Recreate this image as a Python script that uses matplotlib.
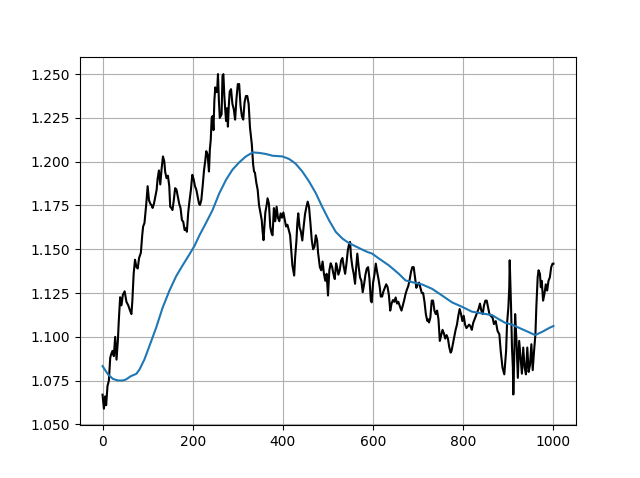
import matplotlib
matplotlib.use("Agg")
import matplotlib.pyplot as plt

# Price series (black)
price_x = [0, 3, 6, 8, 11, 14, 17, 19, 22, 25, 28, 31, 34, 36, 39, 42, 45, 49, 53, 57,
           61, 64, 66, 69, 72, 75, 78, 81, 85, 88, 90, 93, 97, 100, 103, 106, 109, 111, 114, 117,
           120, 122, 125, 128, 131, 134, 137, 139, 142, 145, 148, 150, 153, 155, 158, 161, 164, 167, 170, 173,
           176, 179, 182, 185, 187, 190, 193, 196, 199, 202, 205, 208, 211, 214, 216, 219, 222, 225, 228, 230,
           233, 236, 238, 240, 242, 244, 246, 248, 250, 252, 254, 256, 258, 260, 262, 264, 266, 268, 270, 272,
           274, 276, 278, 280, 282, 285, 288, 291, 294, 297, 300, 303, 306, 309, 312, 315, 318, 321, 324, 327,
           329, 331, 334, 336, 338, 341, 344, 347, 350, 353, 355, 357, 359, 361, 364, 366, 369, 372, 375, 377,
           380, 383, 386, 389, 392, 395, 398, 401, 404, 407, 410, 413, 416, 419, 421, 423, 425, 427, 430, 432,
           434, 437, 440, 443, 446, 449, 452, 455, 458, 461, 464, 467, 470, 473, 476, 478, 480, 482, 485, 488,
           491, 494, 497, 500, 503, 506, 509, 512, 515, 518, 520, 523, 526, 529, 532, 535, 538, 541, 544, 547,
           549, 551, 554, 557, 560, 562, 565, 568, 571, 574, 577, 580, 583, 586, 589, 592, 595, 597, 600, 603,
           606, 609, 612, 615, 617, 620, 623, 626, 629, 632, 635, 638, 641, 644, 647, 650, 653, 656, 660, 663,
           666, 669, 672, 675, 678, 681, 684, 687, 690, 693, 696, 699, 702, 705, 708, 711, 714, 717, 720, 722,
           724, 727, 730, 733, 736, 739, 742, 745, 748, 751, 754, 757, 760, 763, 766, 769, 772, 774, 777, 780,
           783, 786, 789, 792, 795, 798, 801, 804, 807, 810, 813, 816, 819, 822, 825, 828, 831, 834, 837, 840,
           843, 846, 849, 852, 855, 858, 861, 865, 868, 872, 876, 880, 883, 887, 891, 895, 897, 900, 902, 903,
           906, 908, 910, 911, 913, 915, 918, 921, 924, 927, 930, 933, 936, 939, 942, 945, 948, 951, 954, 957,
           960, 962, 965, 967, 970, 972, 974, 977, 980, 983, 986, 989, 992, 995, 998, 1000]
price_y = [1.067, 1.059, 1.066, 1.061, 1.072, 1.075, 1.088, 1.090, 1.092, 1.089, 1.100, 1.087, 1.098, 1.109, 1.1226, 1.118, 1.124, 1.126, 1.120, 1.118,
           1.115, 1.113, 1.120, 1.136, 1.144, 1.140, 1.139, 1.145, 1.148, 1.158, 1.163, 1.165, 1.176, 1.186, 1.178, 1.176, 1.175, 1.1736, 1.176, 1.180,
           1.184, 1.190, 1.195, 1.187, 1.196, 1.203, 1.200, 1.194, 1.1906, 1.192, 1.186, 1.1743, 1.1734, 1.1724, 1.178, 1.1849, 1.184, 1.180, 1.176, 1.1735,
           1.1667, 1.1657, 1.161, 1.162, 1.160, 1.171, 1.178, 1.184, 1.1925, 1.190, 1.186, 1.184, 1.180, 1.176, 1.1753, 1.178, 1.186, 1.195, 1.201, 1.206,
           1.204, 1.1944, 1.207, 1.2126, 1.225, 1.226, 1.218, 1.235, 1.2424, 1.2397, 1.240, 1.250, 1.235, 1.225, 1.226, 1.227, 1.249, 1.250, 1.238, 1.230,
           1.2232, 1.2305, 1.220, 1.232, 1.240, 1.2414, 1.233, 1.230, 1.224, 1.236, 1.2443, 1.2443, 1.232, 1.226, 1.224, 1.234, 1.2375, 1.2375, 1.233, 1.2194,
           1.2146, 1.210, 1.1983, 1.1944, 1.1937, 1.188, 1.184, 1.1753, 1.171, 1.1667, 1.160, 1.1552, 1.163, 1.171, 1.1753, 1.1791, 1.176, 1.1627, 1.159, 1.158,
           1.1735, 1.166, 1.1743, 1.168, 1.166, 1.1705, 1.168, 1.171, 1.167, 1.163, 1.164, 1.161, 1.158, 1.148, 1.1408, 1.138, 1.135, 1.145, 1.155, 1.165,
           1.1705, 1.1625, 1.160, 1.155, 1.163, 1.170, 1.174, 1.1772, 1.174, 1.165, 1.1552, 1.150, 1.1515, 1.158, 1.155, 1.148, 1.1437, 1.1398, 1.138, 1.143,
           1.136, 1.132, 1.136, 1.1236, 1.138, 1.142, 1.140, 1.136, 1.133, 1.142, 1.140, 1.1355, 1.138, 1.1435, 1.145, 1.140, 1.136, 1.142, 1.1495, 1.1533,
           1.1542, 1.146, 1.140, 1.136, 1.1303, 1.138, 1.1475, 1.140, 1.134, 1.132, 1.1255, 1.130, 1.1355, 1.139, 1.1398, 1.133, 1.1207, 1.1197, 1.131, 1.1355,
           1.1418, 1.137, 1.133, 1.128, 1.123, 1.123, 1.126, 1.128, 1.130, 1.1285, 1.124, 1.115, 1.119, 1.121, 1.120, 1.1225, 1.119, 1.120, 1.117, 1.115,
           1.118, 1.121, 1.1245, 1.127, 1.129, 1.1325, 1.137, 1.1398, 1.1398, 1.134, 1.128, 1.130, 1.131, 1.128, 1.125, 1.125, 1.120, 1.113, 1.1092, 1.110,
           1.1082, 1.111, 1.1207, 1.1207, 1.115, 1.113, 1.115, 1.110, 1.0977, 1.101, 1.104, 1.102, 1.099, 1.101, 1.099, 1.094, 1.091, 1.092, 1.096, 1.100,
           1.104, 1.107, 1.112, 1.1159, 1.113, 1.109, 1.112, 1.107, 1.105, 1.106, 1.107, 1.106, 1.104, 1.108, 1.110, 1.112, 1.114, 1.116, 1.119, 1.115,
           1.113, 1.118, 1.1207, 1.1207, 1.117, 1.113, 1.112, 1.111, 1.1073, 1.109, 1.1034, 1.1015, 1.092, 1.0824, 1.0786, 1.092, 1.1073, 1.1168, 1.1283, 1.1437,
           1.1168, 1.094, 1.0824, 1.0671, 1.088, 1.113, 1.0977, 1.0766, 1.0977, 1.088, 1.079, 1.0939, 1.0824, 1.0786, 1.0939, 1.080, 1.084, 1.0958, 1.081, 1.092,
           1.1015, 1.1168, 1.134, 1.138, 1.136, 1.1283, 1.132, 1.1207, 1.1245, 1.130, 1.1264, 1.132, 1.134, 1.1398, 1.1418, 1.1418]

# Smoothed series (blue)
smooth_x = [0, 12, 23, 34, 45, 52, 63, 75, 82, 93, 104, 119, 133, 148, 163, 178, 192, 204, 215, 229,
            244, 259, 274, 288, 303, 318, 333, 348, 362, 377, 399, 414, 428, 443, 458, 473, 487, 502, 517, 532,
            546, 561, 576, 587, 598, 613, 635, 657, 672, 687, 709, 731, 753, 775, 797, 819, 841, 864, 878, 893,
            908, 919, 939, 957, 961, 976, 990, 1000]
smooth_y = [1.0833, 1.0786, 1.0760, 1.0751, 1.0751, 1.0757, 1.0776, 1.0789, 1.0814, 1.0872, 1.0948, 1.1053, 1.1165, 1.1262, 1.1345, 1.1410, 1.1468, 1.1520, 1.1580, 1.1648,
            1.1724, 1.1820, 1.1897, 1.1954, 1.1996, 1.2030, 1.2053, 1.2050, 1.2044, 1.2034, 1.2030, 1.2015, 1.1989, 1.1944, 1.1887, 1.1820, 1.1743, 1.1667, 1.1600, 1.1561,
            1.1536, 1.1517, 1.1498, 1.1485, 1.1475, 1.1447, 1.1408, 1.1360, 1.1322, 1.1312, 1.1299, 1.1274, 1.1236, 1.1197, 1.1172, 1.1144, 1.1134, 1.1124, 1.1102, 1.1080,
            1.1070, 1.1057, 1.1034, 1.1013, 1.1012, 1.1030, 1.1050, 1.1062]

fig, ax = plt.subplots(figsize=(6.4, 4.78), dpi=100)
ax.plot(price_x, price_y, color="k", linewidth=1.5)
ax.plot(smooth_x, smooth_y, color="C0", linewidth=1.5)
ax.grid(True)
fig.savefig("out.png", dpi=100)
